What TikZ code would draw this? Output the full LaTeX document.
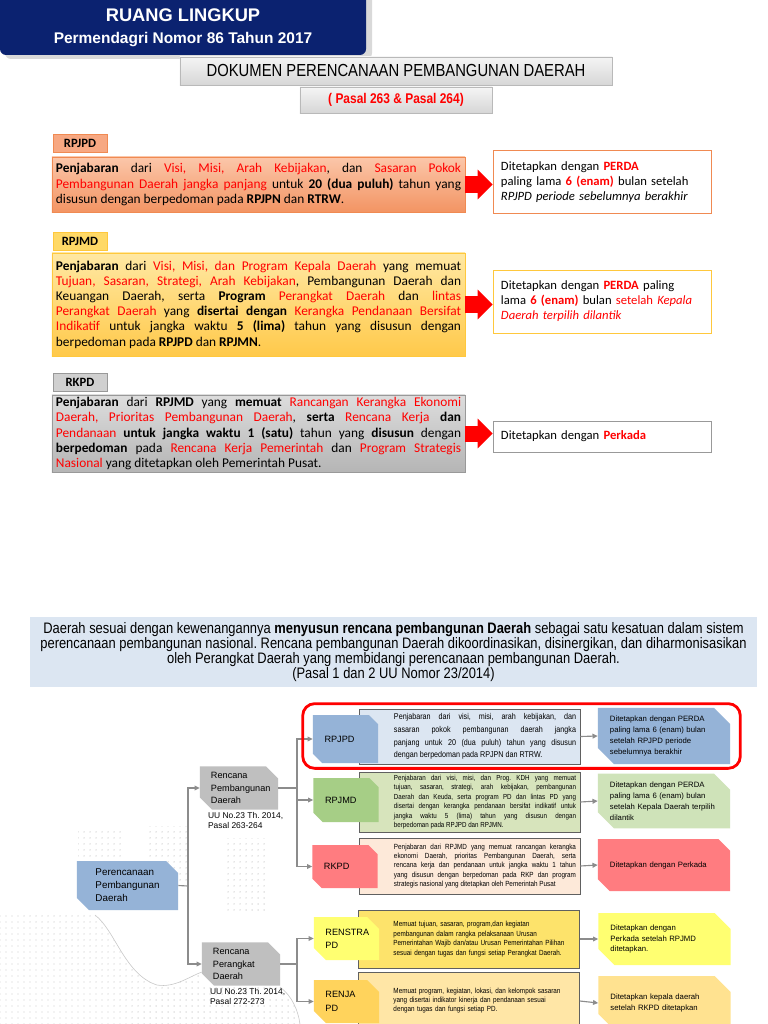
\documentclass[tikz,border=0pt]{standalone}
\usepackage{fontspec}
\setmainfont{Carlito}
\newfontfamily\arial{Liberation Sans}
\newfontfamily\sempit{Liberation Sans}[FakeStretch=0.85]
\usetikzlibrary{positioning, arrows.meta, shapes.misc, fit, patterns.meta}

\definecolor{navy}{HTML}{0B2270}
\definecolor{merah}{HTML}{FF0000}
\definecolor{oranyeLbl}{HTML}{F7A882}
\definecolor{oranyeAtas}{HTML}{FBC7AA}
\definecolor{oranyeBawah}{HTML}{F39463}
\definecolor{oranyeGrs}{HTML}{F08A52}
\definecolor{kuningLbl}{HTML}{FFD966}
\definecolor{kuningAtas}{HTML}{FFE8A3}
\definecolor{kuningBawah}{HTML}{FFC94A}
\definecolor{kuningGrs}{HTML}{FFC83D}
\definecolor{abuLbl}{HTML}{D0D0D0}
\definecolor{abuAtas}{HTML}{DDDDDD}
\definecolor{abuBawah}{HTML}{B5B5B5}
\definecolor{abuGrs}{HTML}{999999}
\definecolor{biruMuda}{HTML}{DCE6F2}
\definecolor{biruTua}{HTML}{95B3D7}
\definecolor{abu}{HTML}{BFBFBF}
\definecolor{hijauTua}{HTML}{A6CE86}
\definecolor{hijauMuda}{HTML}{D7E4BC}
\definecolor{hijauTap}{HTML}{CFE3B9}
\definecolor{pink}{HTML}{FF7C80}
\definecolor{peach}{HTML}{FDE9D9}
\definecolor{kuning}{HTML}{FFFF71}
\definecolor{kuningUrai}{HTML}{FDE36B}
\definecolor{emas}{HTML}{FFD35C}
\definecolor{emasMuda}{HTML}{FFE6A6}
\definecolor{emasTap}{HTML}{FFE290}

\newcommand{\mr}[1]{\textcolor{merah}{#1}}

\begin{document}
\frenchspacing
\begin{tikzpicture}[x=0.025cm, y=-0.025cm, >={Triangle[length=0.13cm,width=0.12cm]},
    lbl/.style={draw, rectangle, minimum width=1.35cm, minimum height=0.45cm, inner sep=0pt, font=\fontsize{9}{10}\selectfont\bfseries},
    isi/.style={draw, rectangle, text width=10.125cm, inner xsep=0.1cm, inner ysep=0pt, align=justify, font=\fontsize{9.5}{10.8}\selectfont},
    tetap/.style={draw, fill=white, rectangle, text width=5.05cm, inner xsep=0.2cm, inner ysep=0pt, align=left, font=\fontsize{9}{10.6}\selectfont},
    tembak/.style={draw=merah, line width=0.4cm, -{Triangle[length=0.375cm,width=0.725cm]}},
    judul/.style={draw=gray!55, top color=gray!8, bottom color=gray!32, inner sep=0pt, font=\sempit\fontsize{12.4}{14}\selectfont},
    potong/.style={chamfered rectangle, chamfered rectangle corners={north east,south west}, chamfered rectangle xsep=0.15cm, chamfered rectangle ysep=0.15cm, inner sep=0pt},
    kep/.style={potong, minimum width=1.625cm, text width=1.05cm, align=left, font=\arial\fontsize{6.5}{9.5}\selectfont},
    rencana/.style={potong, fill=abu, minimum width=1.95cm, minimum height=1.05cm, text width=1.4cm, align=left, font=\arial\fontsize{6.5}{8.9}\selectfont},
    catatan/.style={inner sep=0.05cm, align=left, font=\arial\fontsize{6}{7.6}\selectfont},
    urai/.style={draw=gray!75!black, rectangle, minimum width=5.525cm, text width=5.325cm, inner xsep=0.1cm, inner ysep=0pt, align=justify, execute at begin node={\leftskip=0.775cm}},
    tap/.style={potong, minimum width=3.3cm, text width=2.7cm, align=left, chamfered rectangle xsep=0.2cm, chamfered rectangle ysep=0.2cm, font=\arial\fontsize{5.5}{7.8}\selectfont},
    garis/.style={draw=gray!90, line width=0.8pt},
    titik/.style={pattern={Dots[distance=0.15cm, radius=0.018cm]}, pattern color=gray!40}
  ]
  \useasboundingbox (0,0) rectangle (768,1024);
  \clip (0,0) rectangle (768,1024);
  \fill[white] (0,0) rectangle (768,1024);

  % judul atas
  \fill[gray!30, rounded corners=0.15cm] (5,-10) rectangle (372,59);
  \fill[navy, rounded corners=0.15cm] (0,-10) rectangle (366,55);
  \node[text=white, font=\arial\bfseries\fontsize{13}{14}\selectfont] (ruang) at (183,15) {RUANG LINGKUP};
  \node[text=white, font=\arial\bfseries\fontsize{11}{12}\selectfont] (permen) at (183,40) {Permendagri Nomor 86 Tahun 2017};

  \node[judul, minimum width=10.8cm, minimum height=0.71cm] (dok) at (396,71) {DOKUMEN PERENCANAAN PEMBANGUNAN DAERAH};
  \node[judul, minimum width=4.8cm, minimum height=0.65cm, text=merah, font=\sempit\bfseries\fontsize{10}{12}\selectfont] (pasal) at (396,100) {( Pasal 263 \& Pasal 264)};

  % RPJPD
  \node[lbl, fill=oranyeLbl, draw=oranyeGrs] (lbJP) at (80,143) {RPJPD};
  \node[isi, draw=oranyeGrs, top color=oranyeAtas, bottom color=oranyeBawah, minimum height=1.375cm] (isiJP) at (258.5,184.5)
    {\textbf{Penjabaran} dari \mr{Visi, Misi, Arah Kebijakan}, dan \mr{Sasaran Pokok}\linebreak
     \mr{Pembangunan Daerah jangka panjang} untuk \textbf{20 (dua puluh)} tahun yang\linebreak
     disusun dengan berpedoman pada \textbf{RPJPN} dan \textbf{RTRW}.};
  \node[tetap, draw=oranyeGrs, minimum height=1.575cm] (tapJP) at (602,182)
    {Ditetapkan dengan \mr{\textbf{PERDA}}\\ paling lama \mr{\textbf{6 (enam)}} bulan setelah\\ \textit{RPJPD periode sebelumnya berakhir}};
  \draw[tembak] (isiJP.east) -- (isiJP.east -| tapJP.west);

  % RPJMD
  \node[lbl, fill=kuningLbl, draw=kuningGrs] (lbJM) at (80,241) {RPJMD};
  \node[isi, draw=kuningGrs, top color=kuningAtas, bottom color=kuningBawah, minimum height=2.575cm] (isiJM) at (258.5,304.5)
    {\textbf{Penjabaran} dari \mr{Visi, Misi, dan Program Kepala Daerah} yang memuat\linebreak
     \mr{Tujuan, Sasaran, Strategi, Arah Kebijakan}, Pembangunan Daerah dan\linebreak
     Keuangan Daerah, serta \textbf{Program} \mr{Perangkat Daerah} dan \mr{lintas}\linebreak
     \mr{Perangkat Daerah} yang \textbf{disertai dengan} \mr{Kerangka Pendanaan Bersifat}\linebreak
     \mr{Indikatif} untuk jangka waktu \textbf{5 (lima)} tahun yang disusun dengan\linebreak
     berpedoman pada \textbf{RPJPD} dan \textbf{RPJMN}.};
  \node[tetap, draw=kuningGrs, minimum height=1.575cm] (tapJM) at (602,301.5)
    {Ditetapkan dengan \mr{\textbf{PERDA}} paling\\ lama \mr{\textbf{6 (enam)}} bulan \mr{setelah \textit{Kepala}}\\ \mr{\textit{Daerah terpilih dilantik}}};
  \draw[tembak] (isiJM.east) -- (isiJM.east -| tapJM.west);

  % RKPD
  \node[lbl, fill=abuLbl, draw=abuGrs] (lbKP) at (80,382) {RKPD};
  \node[isi, draw=abuGrs, top color=abuAtas, bottom color=abuBawah, minimum height=1.925cm] (isiKP) at (258.5,433.5)
    {\textbf{Penjabaran} dari \textbf{RPJMD} yang \textbf{memuat} \mr{Rancangan Kerangka Ekonomi}\linebreak
     \mr{Daerah, Prioritas Pembangunan Daerah}, \textbf{serta} \mr{Rencana Kerja} \textbf{dan}\linebreak
     \mr{Pendanaan} \textbf{untuk jangka waktu 1 (satu)} tahun yang \textbf{disusun} dengan\linebreak
     \textbf{berpedoman} pada \mr{Rencana Kerja Pemerintah} dan \mr{Program Strategis}\linebreak
     \mr{Nasional} yang ditetapkan oleh Pemerintah Pusat.};
  \node[tetap, draw=abuGrs, minimum height=0.775cm] (tapKP) at (602,436.5)
    {Ditetapkan dengan \mr{\textbf{Perkada}}};
  \draw[tembak] (isiKP.east) -- (isiKP.east -| tapKP.west);

  % hiasan titik-titik
  \fill[titik] (78,828) rectangle (125,858);
  \fill[titik] (148,826) rectangle (190,882);
  \fill[titik] (223,838) rectangle (265,910);
  \fill[titik] (0,915) -- (95,915) .. controls (115,930) and (125,975) .. (157,985)
    .. controls (175,988) and (190,976) .. (202,972) -- (202,987) -- (280,987)
    .. controls (292,996) and (298,1010) .. (300,1024) -- (0,1024) -- cycle;
  \draw[gray!45, thin] (95,915) .. controls (115,930) and (125,975) .. (157,985)
    .. controls (175,988) and (190,976) .. (202,972);
  \draw[gray!45, thin] (280,987) .. controls (292,996) and (298,1010) .. (300,1024);

  % kotak keterangan UU 23/2014
  \node[fill=biruMuda, minimum width=18.175cm, minimum height=1.75cm, align=center, font=\sempit\fontsize{10.8}{10.8}\selectfont] (ket) at (393.5,652)
    {Daerah sesuai dengan kewenangannya \textbf{menyusun rencana pembangunan Daerah} sebagai satu kesatuan dalam sistem\\
     perencanaan pembangunan nasional. Rencana pembangunan Daerah dikoordinasikan, disinergikan, dan diharmonisasikan\\
     oleh Perangkat Daerah yang membidangi perencanaan pembangunan Daerah.\\
     (Pasal 1 dan 2 UU Nomor 23/2014)};

  % pohon perencanaan
  \node[potong, fill=biruTua, minimum width=2.525cm, minimum height=1.225cm, text width=1.6cm, align=left, font=\arial\fontsize{7}{9.2}\selectfont] (pd) at (127.5,885.5) {Perencanaan\\Pembangunan\\Daerah};
  \node[rencana] (rpd) at (239,788) {Rencana\\Pembangunan\\Daerah};
  \node[rencana] (rpkd) at (241,964) {Rencana\\Perangkat\\Daerah};
  \node[catatan, below right=0.15cm and 0cm of rpd.south west] (uu1) {UU No.23 Th. 2014,\\Pasal 263-264};
  \node[catatan, below right=0.15cm and 0cm of rpkd.south west] (uu2) {UU No.23 Th. 2014,\\Pasal 272-273};

  \node[urai, fill=biruMuda, minimum height=1.375cm, font=\sempit\fontsize{6}{9}\selectfont] (dJP) at (469.5,736.5)
    {Penjabaran dari visi, misi, arah kebijakan, dan\linebreak sasaran pokok pembangunan daerah jangka\linebreak panjang untuk 20 (dua puluh) tahun yang disusun\linebreak dengan berpedoman pada RPJPN dan RTRW.};
  \node[urai, fill=hijauMuda, minimum height=1.5cm, font=\sempit\fontsize{5.2}{6.7}\selectfont] (dJM) at (469.5,802)
    {Penjabaran dari visi, misi, dan Prog. KDH yang memuat\linebreak tujuan, sasaran, strategi, arah kebijakan, pembangunan\linebreak Daerah dan Keuda, serta program PD dan lintas PD yang\linebreak disertai dengan kerangka pendanaan bersifat indikatif untuk\linebreak jangka waktu 5 (lima) tahun yang disusun dengan\linebreak berpedoman pada RPJPD dan RPJMN.};
  \node[urai, fill=peach, minimum height=1.4cm, font=\sempit\fontsize{5.3}{6.7}\selectfont] (dKP) at (469.5,866)
    {Penjabaran dari RPJMD yang memuat rancangan kerangka\linebreak ekonomi Daerah, prioritas Pembangunan Daerah, serta\linebreak rencana kerja dan pendanaan untuk jangka waktu 1 tahun\linebreak yang disusun dengan berpedoman pada RKP dan program\linebreak strategis nasional yang ditetapkan oleh Pemerintah Pusat};
  \node[urai, fill=kuningUrai, align=left, minimum height=1.45cm, font=\sempit\fontsize{5.3}{6.7}\selectfont] (dRS) at (469,939)
    {Memuat tujuan, sasaran, program,dan kegiatan\\ pembangunan dalam rangka pelaksanaan Urusan\\ Pemerintahan Wajib dan/atau Urusan Pemerintahan Pilihan\\ sesuai dengan tugas dan fungsi setiap Perangkat Daerah.};
  \node[urai, fill=emasMuda, align=left, minimum height=1.45cm, font=\sempit\fontsize{5.3}{6.4}\selectfont] (dRJ) at (469,1001)
    {Memuat program, kegiatan, lokasi, dan kelompok sasaran\\ yang disertai indikator kinerja dan pendanaan sesuai\\ dengan tugas dan fungsi setiap PD.};

  \node[kep, fill=biruTua, minimum height=1.2cm] (kJP) at (345.5,739) {RPJPD};
  \node[kep, fill=hijauTua, minimum height=1.1cm] (kJM) at (346,800) {RPJMD};
  \node[kep, fill=pink, minimum height=1.075cm] (kKP) at (345,866.5) {RKPD};
  \node[kep, fill=kuning, minimum height=1.075cm] (kRS) at (346.5,938.5) {RENSTRA\\PD};
  \node[kep, fill=emas, minimum height=1.075cm] (kRJ) at (346.5,1001.5) {RENJA\\PD};

  \node[tap, fill=biruTua, minimum height=1.35cm] (tJP) at (664,736) {Ditetapkan dengan PERDA\\paling lama 6 (enam) bulan\\setelah RPJPD periode\\sebelumnya berakhir};
  \node[tap, fill=hijauTap, minimum height=1.3cm] (tJM) at (664,801) {Ditetapkan dengan PERDA\\paling lama 6 (enam) bulan\\setelah Kepala Daerah terpilih\\dilantik};
  \node[tap, fill=pink, minimum height=1.3cm] (tKP) at (664,865) {Ditetapkan dengan Perkada};
  \node[tap, fill=kuning, minimum height=1.3cm] (tRS) at (664.5,939) {Ditetapkan dengan\\Perkada setelah RPJMD\\ditetapkan.};
  \node[tap, fill=emasTap, minimum height=1.35cm] (tRJ) at (664.5,1003) {Ditetapkan kepala daerah\\setelah RKPD ditetapkan};

  \coordinate (cab1) at (188,886);
  \coordinate (cab2) at (297,788);
  \coordinate (cab3) at (297,964);

  % cabang
  \draw[garis] (pd.east) -- (cab1);
  \draw[garis, ->] (cab1) |- (rpd.west);
  \draw[garis, ->] (cab1) |- (rpkd.west);
  \draw[garis] (rpd.east) -- (cab2);
  \draw[garis, ->] (cab2) |- (kJP.west);
  \draw[garis, ->] (cab2) |- (kJM.west);
  \draw[garis, ->] (cab2) |- (kKP.west);
  \draw[garis] (rpkd.east) -- (cab3);
  \draw[garis, ->] (cab3) |- (kRS.west);
  \draw[garis, ->] (cab3) |- (kRJ.west);

  % ke penetapan
  \draw[garis, ->] (dJP.east) -- (tJP.west);
  \draw[garis, ->] (dJM.east) -- (tJM.west);
  \draw[garis, ->] (dKP.east) -- (tKP.west);
  \draw[garis, ->] (dRS.east) -- (tRS.west);
  \draw[garis, ->] (dRJ.east) -- (tRJ.west);

  \node[draw=merah, line width=2pt, rounded corners=0.3cm, inner xsep=0.25cm, inner ysep=0.1cm, fit=(kJP)(dJP)(tJP)] (sorot) {};
\end{tikzpicture}
\end{document}
